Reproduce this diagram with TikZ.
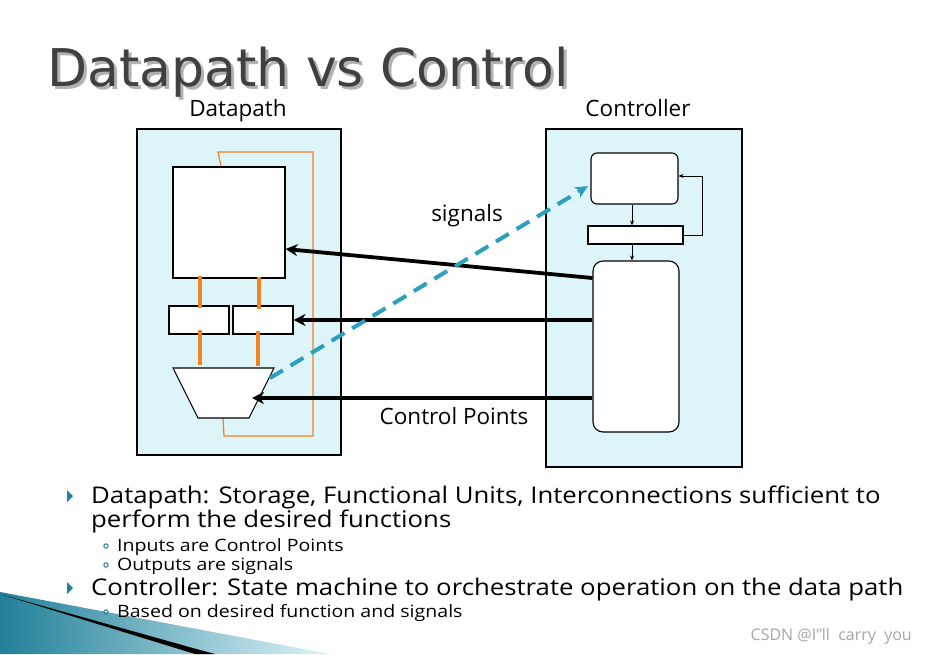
\documentclass[tikz,border=0pt]{standalone}
\usepackage{fontspec}
\setmainfont{Open Sans}
\newfontfamily\tfont{DejaVu Sans}
\newfontfamily\wfont[FakeStretch=1.12]{Open Sans}
\newfontfamily\sfont[FakeStretch=1.15]{Open Sans}
\usetikzlibrary{arrows.meta}
\definecolor{bgc}{RGB}{221,244,249}
\definecolor{org}{RGB}{245,130,32}
\definecolor{sig}{RGB}{42,160,190}
\begin{document}
\begin{tikzpicture}[x=1pt,y=-1pt,
  blk/.style={draw=black,fill=white,line width=1.1pt},
  pane/.style={draw=black,fill=bgc,line width=1.3pt},
  ctlarr/.style={line width=3.8pt,-{Stealth[length=12pt,width=12pt]}},
  smallarr/.style={line width=0.8pt,-{Stealth[length=5pt,width=4pt]}},
  bus/.style={org,line width=3.5pt},
  lbl/.style={font=\fontsize{22.5}{24}\selectfont,anchor=base},
  bul/.style={font=\wfont\fontsize{23}{25}\selectfont,anchor=base west,inner sep=0pt},
  sub/.style={font=\sfont\fontsize{17}{18}\selectfont,anchor=base west,inner sep=0pt}]
\useasboundingbox (0,0) rectangle (926,654);
\fill[white] (0,0) rectangle (926,654);
% decoration bottom left
\shade[left color=sig!80!black,right color=bgc] (0,592) -- (0,654) -- (330,654) -- cycle;
\fill[black] (0,594) -- (200,650) -- (215,654) -- (195,654) -- cycle;
% title
\node[anchor=base west,inner sep=0pt,text=gray!60,font=\tfont\fontsize{52}{56}\selectfont] at (50,89) {Datapath vs Control};
\node[anchor=base west,inner sep=0pt,text=black!75,font=\tfont\fontsize{52}{56}\selectfont] (title) at (47,86) {Datapath vs Control};
% panes
\draw[pane] (137,129) rectangle (341,455);
\draw[pane] (546,129) rectangle (742,467);
\node[lbl] (dpl) at (238,116) {Datapath};
\node[lbl] (ctl) at (638,116) {Controller};
% orange loop
\draw[org,line width=1.2pt] (221,166) -- (218,152) -- (313,152) -- (313,436) -- (224,436) -- (223,418);
% datapath blocks
\node[blk,minimum width=112pt,minimum height=111pt,inner sep=0pt] (reg) at (229,222.5) {};
\node[blk,minimum width=60pt,minimum height=28pt,inner sep=0pt] (ra) at (199,320) {};
\node[blk,minimum width=60pt,minimum height=28pt,inner sep=0pt] (rb) at (263,320) {};
\draw[blk] (173,368) coordinate (m1) -- (274,368) coordinate (m2) -- (249,418) -- (198,418) -- cycle;
\coordinate (muxin) at (252,398);
\coordinate (muxout) at (270,378);
\draw[bus] (200,276) -- (200,308); \draw[bus] (259,277) -- (259,309);
\draw[bus] (200,330) -- (200,365); \draw[bus] (258,331) -- (258,366);
% controller blocks
\node[blk,rounded corners=6pt,minimum width=87pt,minimum height=51pt,inner sep=0pt] (st) at (634.5,178.5) {};
\node[blk,minimum width=95pt,minimum height=18pt,inner sep=0pt] (nx) at (635.5,235) {};
\node[blk,rounded corners=10pt,minimum width=86pt,minimum height=171pt,inner sep=0pt] (cl) at (636,346.5) {};
\draw[smallarr] (st.south -| 632,0) -- (nx.north -| 632,0);
\draw[smallarr] (nx.south -| 632,0) -- (cl.north -| 632,0);
\draw[smallarr] (nx.east) -- (702,235) -- (702,176) -- (st.east |- 0,176);
% control arrows
\draw[ctlarr] (cl.west |- 0,278) -- (reg.east |- 0,249);
\draw[ctlarr] (cl.west |- 0,320) -- (rb.east);
\draw[ctlarr] (cl.west |- 0,398) -- (muxin);
\draw[sig,line width=4pt,dash pattern=on 15pt off 9pt,-{Stealth[length=13pt,width=12pt]}] (muxout) -- (588,186);
\node[lbl] (sl) at (467,221) {signals};
\node[lbl] (cpl) at (454,424) {Control Points};
% bullets
\fill[sig!80!black] (67,490) -- (73,496) -- (67,502) -- cycle;
\fill[sig!80!black] (67,582) -- (73,588) -- (67,594) -- cycle;
\node[bul] (b1) at (91,503) {Datapath: Storage, Functional Units, Interconnections sufficient to};
\node[bul] (b1b) at (91,527) {perform the desired functions};
\node[sub] (s1) at (117,551) {Inputs are Control Points};
\node[sub] (s2) at (117,570) {Outputs are signals};
\node[bul] (b2) at (91,595) {Controller: State machine to orchestrate operation on the data path};
\node[sub] (s3) at (117,617) {Based on desired function and signals};
\foreach \y in {546,565,612} \draw[sig!80!black,line width=1pt] (106,\y) circle (2.2pt);
\node[anchor=base east,inner sep=0pt,text=gray!70,font=\fontsize{16}{18}\selectfont] (wm) at (912,640) {CSDN @I"ll\ \ carry\ \ you};
\end{tikzpicture}
\end{document}
